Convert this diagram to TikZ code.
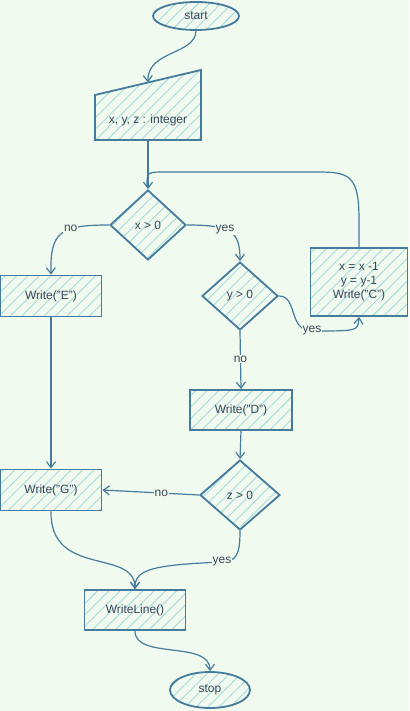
\documentclass[tikz,border=0pt]{standalone}
\usepackage{fontspec}
\setmainfont{Liberation Sans}
\usetikzlibrary{shapes.geometric,arrows.meta,patterns.meta,calc}
\definecolor{bg}{HTML}{F1FAEE}
\definecolor{hatch}{HTML}{A8DADC}
\definecolor{edge}{HTML}{457B9D}
\definecolor{ink}{HTML}{3A4657}

\begin{document}
\begin{tikzpicture}[x=1pt,y=-1pt,
  txt/.style={text=ink,font=\fontsize{12}{14}\selectfont,align=center,inner sep=0pt},
  box/.style={txt,draw=edge,line width=1.8pt,
    pattern={Lines[angle=45,distance=8pt,line width=0.9pt]},pattern color=hatch},
  rect/.style={box,rectangle},
  term/.style={box,ellipse},
  cond/.style={box,diamond},
  lbl/.style={txt,fill=bg,inner sep=1pt},
  arr/.style={draw=edge,line width=1.2pt,-{Straight Barb[length=6pt,width=9pt]}},
  line/.style={draw=edge,line width=1.2pt}]

\useasboundingbox (0,0) rectangle (409,711);
\fill[bg] (0,0) rectangle (409,711);

\node[term,minimum width=86,minimum height=28] (start) at (196,16) {start};

\coordinate (inpnw) at (95,95);
\coordinate (inpne) at (201,70);
\coordinate (inpse) at (201,140);
\coordinate (inpsw) at (95,140);
\draw[box] (inpnw) -- (inpne) -- (inpse) -- (inpsw) -- cycle;
\node[txt] (inp) at (148,120) {x, y, z : integer};
\coordinate (inptop) at ($(inpnw)!0.5!(inpne)$);
\coordinate (inpbot) at ($(inpsw)!0.5!(inpse)$);

\node[cond,minimum width=76,minimum height=70] (xd) at (148,225) {x > 0};
\node[rect,minimum width=101,minimum height=41] (ebox) at (51,296) {Write("E")};
\node[cond,minimum width=76,minimum height=68] (yd) at (240,296) {y > 0};
\node[rect,minimum width=97,minimum height=68] (cbox) at (359,282) {x = x -1\\y = y-1\\Write("C")};
\node[rect,minimum width=102,minimum height=40] (dbox) at (241,410) {Write("D")};
\node[cond,minimum width=80,minimum height=70] (zd) at (240,495) {z > 0};
\node[rect,minimum width=101,minimum height=41] (gbox) at (51,490) {Write("G")};
\node[rect,minimum width=101,minimum height=40] (wbox) at (135,610) {WriteLine()};
\node[term,minimum width=80,minimum height=36] (stop) at (210,690) {stop};

\coordinate (merge) at (147,186);

\draw[arr] (start.south) .. controls (196,55) and (147,50) .. (inptop);
\draw[arr] (inpbot) -- (xd.north);
\draw[line] (cbox.north) -- (359,220) .. controls (359,176) and (350,172) .. (318,172)
  -- (165,172) .. controls (147,172) .. (merge);

\draw[arr] (xd.west) .. controls (60,225) and (50,232) .. node[lbl,pos=0.35]{no} (ebox.north);
\draw[arr] (xd.east) .. controls (232,225) and (240,232) .. node[lbl,pos=0.4]{yes} (yd.north);
\draw[arr] (yd.east) .. controls (298,296) and (288,331) .. (312,331) node[lbl]{yes}
  .. controls (358,331) .. (cbox.south);
\draw[arr] (yd.south) -- node[lbl,pos=0.48]{no} (dbox.north);
\draw[arr] (dbox.south) -- (zd.north);
\draw[arr] (zd.west) -- node[lbl,pos=0.39]{no} (gbox.east);
\draw[arr] (ebox.south) -- (gbox.north);
\draw[arr] (gbox.south) .. controls (50,578) and (135,548) .. (wbox.north);
\draw[arr] (zd.south) .. controls (240,556) and (236,561) .. (222,562) node[lbl]{yes}
  .. controls (150,565) and (135,570) .. (wbox.north);
\draw[arr] (wbox.south) .. controls (135,660) and (210,640) .. (stop.north);

\end{tikzpicture}
\end{document}
